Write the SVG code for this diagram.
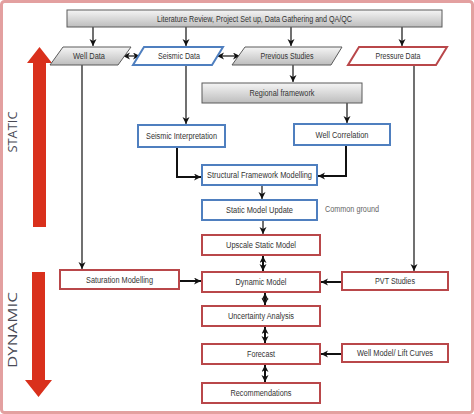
<svg xmlns="http://www.w3.org/2000/svg" width="474" height="414" viewBox="0 0 474 414">
<style>
.t{font-family:"Liberation Sans",Arial,sans-serif;font-size:8.5px;fill:#333;text-anchor:middle}
.gray{fill:url(#gg);stroke:#5a5a5a;stroke-width:1}
.blue{fill:#fff;stroke:#4f7fbf;stroke-width:2}
.red{fill:#fff;stroke:#b9474a;stroke-width:2}
.c{fill:none;stroke:#111;stroke-width:1.2}
.c2{fill:none;stroke:#111;stroke-width:2}
.side{font-family:"Open Sans","Liberation Sans",sans-serif;font-size:13px;fill:#4a4a55;text-anchor:middle}
</style>
<defs>
<linearGradient id="gg" x1="0" y1="0" x2="0" y2="1">
<stop offset="0" stop-color="#f5f5f5"/>
<stop offset="1" stop-color="#bdbdbd"/>
</linearGradient>
<marker id="ah" markerUnits="userSpaceOnUse" markerWidth="8" markerHeight="8" refX="7" refY="3.5" orient="auto-start-reverse">
<path d="M0,0 L7,3.5 L0,7 L2,3.5 z" fill="#111"/>
</marker>
</defs>
<rect x="1.5" y="1.5" width="471" height="411" rx="3" fill="#fff" stroke="#e3a0a0" stroke-width="3"/>

<g id="static-arrow">
<polygon points="33,227 46,227 46,63 52,63 39.5,47 27,63 33,63" fill="#d9301c"/>
<text class="side" transform="translate(17,132) rotate(-90)" textLength="41" lengthAdjust="spacingAndGlyphs">STATIC</text>
</g>
<g id="dynamic-arrow">
<polygon points="32,272 45,272 45,380 52,380 38.5,397 25,380 32,380" fill="#d9301c"/>
<text class="side" transform="translate(17,330) rotate(-90)" textLength="76" lengthAdjust="spacingAndGlyphs">DYNAMIC</text>
</g>

<g id="connectors">
<path class="c" d="M93,27 V46" marker-end="url(#ah)"/>
<path class="c" d="M186,27 V46" marker-end="url(#ah)"/>
<path class="c" d="M291,27 V46" marker-end="url(#ah)"/>
<path class="c" d="M402,27 V46" marker-end="url(#ah)"/>
<path class="c" d="M123,56 H140" marker-start="url(#ah)" marker-end="url(#ah)"/>
<path class="c" d="M217,56 H240" marker-start="url(#ah)" marker-end="url(#ah)"/>
<path class="c" d="M186,65 V124" marker-end="url(#ah)"/>
<path class="c" d="M293,65 V82" marker-end="url(#ah)"/>
<path class="c" d="M347,103 V123" marker-end="url(#ah)"/>
<path class="c2" d="M177,147 V177 H201" marker-end="url(#ah)"/>
<path class="c2" d="M346,145 V176 H318" marker-end="url(#ah)"/>
<path class="c" d="M262,185 V199" marker-end="url(#ah)"/>
<path class="c" d="M263,220 V234" marker-end="url(#ah)"/>
<path class="c2" d="M263,256 V271" marker-start="url(#ah)" marker-end="url(#ah)"/>
<path class="c2" d="M265,293 V305" marker-start="url(#ah)" marker-end="url(#ah)"/>
<path class="c2" d="M265,327 V343" marker-start="url(#ah)" marker-end="url(#ah)"/>
<path class="c2" d="M265,365 V382" marker-start="url(#ah)" marker-end="url(#ah)"/>
<path class="c" d="M82,65 V269" marker-end="url(#ah)"/>
<path class="c" d="M414,65 V271" marker-end="url(#ah)"/>
<path class="c2" d="M179,281 H201" marker-end="url(#ah)"/>
<path class="c2" d="M342,282 H321" marker-end="url(#ah)"/>
<path class="c2" d="M342,354 H321" marker-end="url(#ah)"/>
</g>

<g id="literature"><rect class="gray" x="67" y="10" width="375" height="17"/><text class="t" x="254.5" y="21.5" textLength="195" lengthAdjust="spacingAndGlyphs">Literature Review, Project Set up, Data Gathering and QA/QC</text></g>
<g id="well-data"><polygon class="gray" points="63,47 131,47 118,65 50,65"/><text class="t" x="89" y="59" textLength="32" lengthAdjust="spacingAndGlyphs">Well Data</text></g>
<g id="seismic-data"><polygon class="blue" points="144,47 223,47 212,65 133,65"/><text class="t" x="179" y="59" textLength="42" lengthAdjust="spacingAndGlyphs">Seismic Data</text></g>
<g id="previous-studies"><polygon class="gray" points="245,47 342,47 331,65 232,65"/><text class="t" x="287" y="59" textLength="53" lengthAdjust="spacingAndGlyphs">Previous Studies</text></g>
<g id="pressure-data"><polygon class="red" points="359,47 447,47 436,65 348,65"/><text class="t" x="398" y="59" textLength="45" lengthAdjust="spacingAndGlyphs">Pressure Data</text></g>
<g id="regional"><rect class="gray" x="202" y="83" width="160" height="20"/><text class="t" x="282" y="96" textLength="65" lengthAdjust="spacingAndGlyphs">Regional framework</text></g>
<g id="seismic-interp"><rect class="blue" x="138" y="125" width="87" height="22"/><text class="t" x="181.5" y="139" textLength="71" lengthAdjust="spacingAndGlyphs">Seismic Interpretation</text></g>
<g id="well-corr"><rect class="blue" x="294" y="124" width="96" height="21"/><text class="t" x="342" y="137.5" textLength="53" lengthAdjust="spacingAndGlyphs">Well Correlation</text></g>
<g id="structural"><rect class="blue" x="202" y="165" width="115" height="20"/><text class="t" x="259.5" y="178" textLength="105" lengthAdjust="spacingAndGlyphs">Structural Framework Modelling</text></g>
<g id="static-update"><rect class="blue" x="202" y="200" width="115" height="20"/><text class="t" x="259.5" y="213" textLength="67" lengthAdjust="spacingAndGlyphs">Static Model Update</text></g>
<g id="common-ground"><text x="325" y="212" font-family="Liberation Sans, Arial, sans-serif" font-size="9" fill="#666" textLength="54" lengthAdjust="spacingAndGlyphs">Common ground</text></g>
<g id="upscale"><rect class="red" x="202" y="235" width="118" height="20"/><text class="t" x="261" y="248" textLength="70" lengthAdjust="spacingAndGlyphs">Upscale Static Model</text></g>
<g id="dynamic-model"><rect class="red" x="202" y="272" width="118" height="20"/><text class="t" x="261" y="285" textLength="51" lengthAdjust="spacingAndGlyphs">Dynamic Model</text></g>
<g id="uncertainty"><rect class="red" x="202" y="306" width="118" height="20"/><text class="t" x="261" y="319" textLength="66" lengthAdjust="spacingAndGlyphs">Uncertainty Analysis</text></g>
<g id="forecast"><rect class="red" x="202" y="344" width="118" height="20"/><text class="t" x="261" y="357" textLength="28" lengthAdjust="spacingAndGlyphs">Forecast</text></g>
<g id="recommendations"><rect class="red" x="202" y="383" width="118" height="20"/><text class="t" x="261" y="396" textLength="61" lengthAdjust="spacingAndGlyphs">Recommendations</text></g>
<g id="saturation"><rect class="red" x="60" y="270" width="119" height="19"/><text class="t" x="119.5" y="282.5" textLength="67" lengthAdjust="spacingAndGlyphs">Saturation Modelling</text></g>
<g id="pvt"><rect class="red" x="342" y="272" width="106" height="18"/><text class="t" x="395" y="284" textLength="40" lengthAdjust="spacingAndGlyphs">PVT Studies</text></g>
<g id="well-model"><rect class="red" x="342" y="344" width="106" height="18"/><text class="t" x="395" y="356" textLength="76" lengthAdjust="spacingAndGlyphs">Well Model/ Lift Curves</text></g>
</svg>
